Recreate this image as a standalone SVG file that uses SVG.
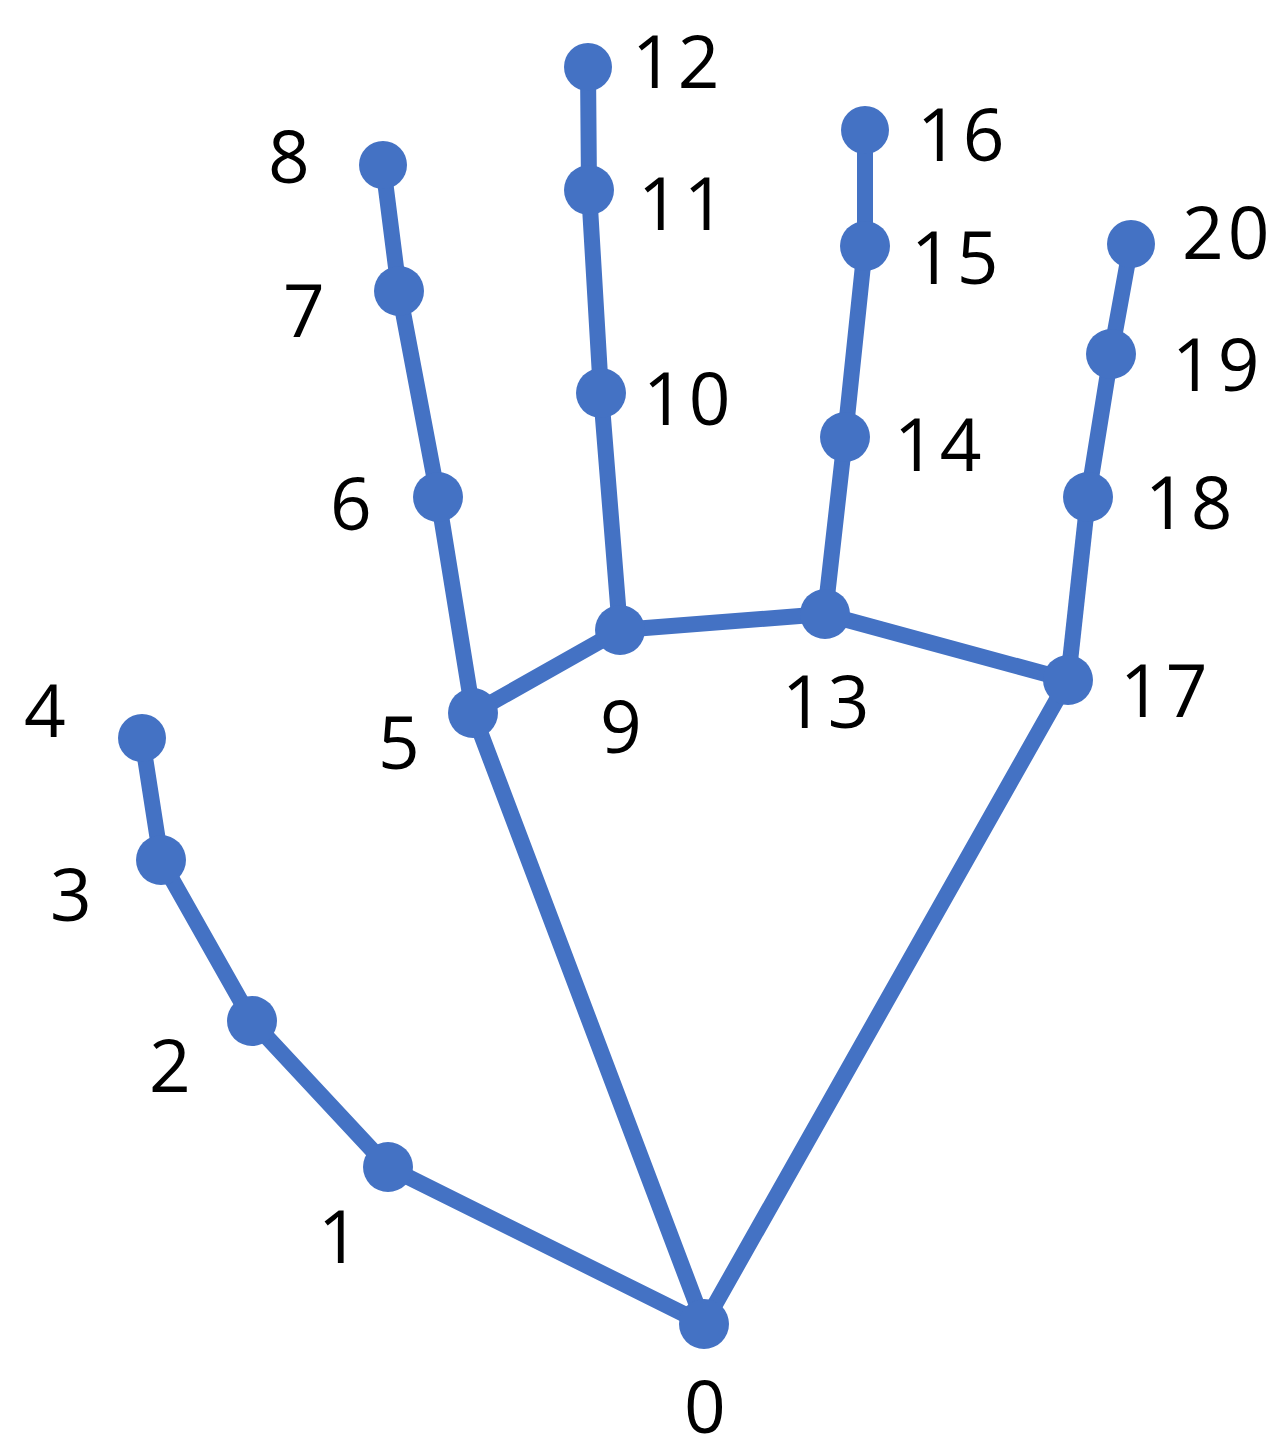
<svg xmlns="http://www.w3.org/2000/svg" width="1284" height="1455" viewBox="0 0 1284 1455">
<style>
.e{stroke:#4472C4;stroke-width:16;stroke-linecap:round;fill:none}
.n{fill:#4472C4}
.t{font-family:"Open Sans","Liberation Sans",sans-serif;font-size:73px;fill:#000}
.w{letter-spacing:4px}
</style>
<rect width="1284" height="1455" fill="#fff"/>
<g id="connectors">
<line class="e" x1="704" y1="1324" x2="388" y2="1167"/>
<line class="e" x1="388" y1="1167" x2="252" y2="1021"/>
<line class="e" x1="252" y1="1021" x2="161" y2="860"/>
<line class="e" x1="161" y1="860" x2="142" y2="738"/>
<line class="e" x1="704" y1="1324" x2="473" y2="713"/>
<line class="e" x1="473" y1="713" x2="438" y2="497"/>
<line class="e" x1="438" y1="497" x2="399" y2="291"/>
<line class="e" x1="399" y1="291" x2="383" y2="165"/>
<line class="e" x1="473" y1="713" x2="620" y2="630"/>
<line class="e" x1="620" y1="630" x2="601" y2="393"/>
<line class="e" x1="601" y1="393" x2="589" y2="190"/>
<line class="e" x1="589" y1="190" x2="588" y2="67"/>
<line class="e" x1="620" y1="630" x2="825" y2="614"/>
<line class="e" x1="825" y1="614" x2="845" y2="437"/>
<line class="e" x1="845" y1="437" x2="865" y2="246"/>
<line class="e" x1="865" y1="246" x2="865" y2="130"/>
<line class="e" x1="825" y1="614" x2="1068" y2="680"/>
<line class="e" x1="1068" y1="680" x2="1088" y2="497"/>
<line class="e" x1="1088" y1="497" x2="1111" y2="354"/>
<line class="e" x1="1111" y1="354" x2="1131" y2="244"/>
<line class="e" x1="704" y1="1324" x2="1068" y2="680"/>
</g>
<g id="node0"><circle class="n" cx="704" cy="1324" r="25"/><text class="t" x="684" y="1433">0</text></g>
<g id="node1"><circle class="n" cx="388" cy="1167" r="25"/><text class="t" x="318" y="1263">1</text></g>
<g id="node2"><circle class="n" cx="252" cy="1021" r="25"/><text class="t" x="149" y="1092">2</text></g>
<g id="node3"><circle class="n" cx="161" cy="860" r="25"/><text class="t" x="50" y="921">3</text></g>
<g id="node4"><circle class="n" cx="142" cy="738" r="24"/><text class="t" x="24" y="737">4</text></g>
<g id="node5"><circle class="n" cx="473" cy="713" r="25"/><text class="t" x="378" y="769">5</text></g>
<g id="node6"><circle class="n" cx="438" cy="497" r="25"/><text class="t" x="330" y="530">6</text></g>
<g id="node7"><circle class="n" cx="399" cy="291" r="25"/><text class="t" x="283" y="337">7</text></g>
<g id="node8"><circle class="n" cx="383" cy="165" r="24"/><text class="t" x="268" y="183">8</text></g>
<g id="node9"><circle class="n" cx="620" cy="630" r="25"/><text class="t" x="600" y="753">9</text></g>
<g id="node10"><circle class="n" cx="601" cy="393" r="25"/><text class="t w" x="643" y="425">10</text></g>
<g id="node11"><circle class="n" cx="589" cy="190" r="25"/><text class="t w" x="638" y="230">11</text></g>
<g id="node12"><circle class="n" cx="588" cy="67" r="24"/><text class="t w" x="632" y="88">12</text></g>
<g id="node13"><circle class="n" cx="825" cy="614" r="25"/><text class="t w" x="782" y="728">13</text></g>
<g id="node14"><circle class="n" cx="845" cy="437" r="25"/><text class="t w" x="894" y="471">14</text></g>
<g id="node15"><circle class="n" cx="865" cy="246" r="25"/><text class="t w" x="911" y="284">15</text></g>
<g id="node16"><circle class="n" cx="865" cy="130" r="24"/><text class="t w" x="917" y="161">16</text></g>
<g id="node17"><circle class="n" cx="1068" cy="680" r="25"/><text class="t w" x="1120" y="717">17</text></g>
<g id="node18"><circle class="n" cx="1088" cy="497" r="25"/><text class="t w" x="1145" y="529">18</text></g>
<g id="node19"><circle class="n" cx="1111" cy="354" r="25"/><text class="t w" x="1172" y="391">19</text></g>
<g id="node20"><circle class="n" cx="1131" cy="244" r="24"/><text class="t w" x="1182" y="259">20</text></g>
</svg>
